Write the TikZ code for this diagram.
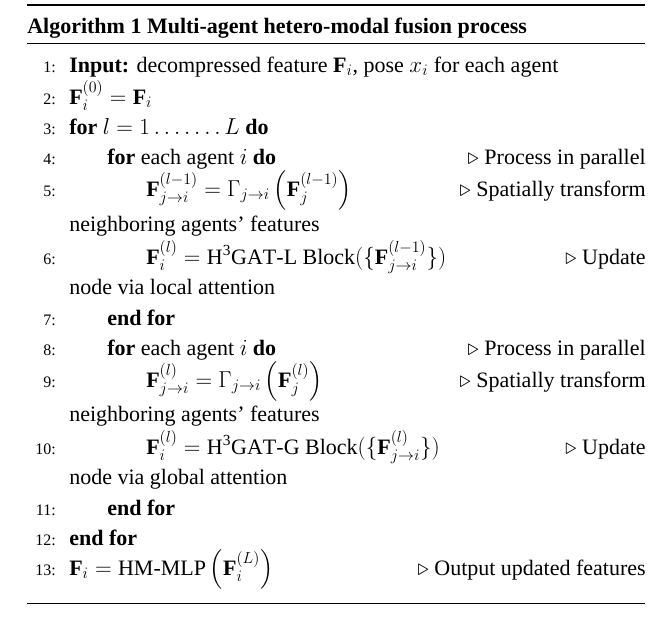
\documentclass[tikz,border=0pt]{standalone}
\usepackage{amsmath,amssymb}
\usepackage{fontspec}
\setmainfont{Liberation Serif}
\begin{document}
\begin{tikzpicture}[x=0.75pt,y=-0.75pt,
  txt/.style={anchor=base west,inner sep=0pt,font=\fontsize{16.5}{20}\selectfont},
  num/.style={anchor=base east,inner sep=0pt,font=\fontsize{12}{14}\selectfont},
  cmt/.style={anchor=base east,inner sep=0pt,font=\fontsize{16.5}{20}\selectfont},
  rl/.style={line width=0.9pt}]
\useasboundingbox (0,0) rectangle (659,625);
\draw[rl] (27,5) -- (645,5);
\draw[rl,line width=0.5pt] (27,43) -- (645,43);
\draw[rl,line width=0.5pt] (27,603) -- (645,603);
\node[txt] (t) at (27,33) {\textbf{Algorithm 1 Multi-agent hetero-modal fusion process}};
\newcommand{\algln}[4]{\node[num] (n#1) at (56,#2) {#1:}; \node[txt] (l#1) at (#3,#2) {#4};}
\algln{1}{72}{69}{\textbf{Input:} decompressed feature $\mathbf{F}_i$, pose $x_i$ for each agent}
\algln{2}{104}{69}{$\mathbf{F}_i^{(0)}=\mathbf{F}_i$}
\algln{3}{134}{69}{\textbf{for} $l=1\ldots.\ldots L$ \textbf{do}}
\algln{4}{164}{107}{\textbf{for} each agent $i$ \textbf{do}}
\node[cmt] (c4) at (646,164) {$\triangleright$ Process in parallel};
\algln{5}{196}{146}{$\mathbf{F}_{j\to i}^{(l-1)}=\Gamma_{j\to i}\left(\mathbf{F}_j^{(l-1)}\right)$}
\node[cmt] (c5) at (646,196) {$\triangleright$ Spatially transform};
\node[txt] (l5b) at (69,231) {neighboring agents' features};
\algln{6}{264}{146}{$\mathbf{F}_i^{(l)}=\mathrm{H^3GAT\text{-}L\ Block}(\{\mathbf{F}_{j\to i}^{(l-1)}\})$}
\node[cmt] (c6) at (646,264) {$\triangleright$ Update};
\node[txt] (l6b) at (69,294) {node via local attention};
\algln{7}{325}{107}{\textbf{end for}}
\algln{8}{355}{107}{\textbf{for} each agent $i$ \textbf{do}}
\node[cmt] (c8) at (646,355) {$\triangleright$ Process in parallel};
\algln{9}{387}{146}{$\mathbf{F}_{j\to i}^{(l)}=\Gamma_{j\to i}\left(\mathbf{F}_j^{(l)}\right)$}
\node[cmt] (c9) at (646,387) {$\triangleright$ Spatially transform};
\node[txt] (l9b) at (69,421) {neighboring agents' features};
\algln{10}{454}{146}{$\mathbf{F}_i^{(l)}=\mathrm{H^3GAT\text{-}G\ Block}(\{\mathbf{F}_{j\to i}^{(l)}\})$}
\node[cmt] (c10) at (646,454) {$\triangleright$ Update};
\node[txt] (l10b) at (69,484) {node via global attention};
\algln{11}{515}{107}{\textbf{end for}}
\algln{12}{545}{69}{\textbf{end for}}
\algln{13}{575}{69}{$\mathbf{F}_i=\mathrm{HM\text{-}MLP}\left(\mathbf{F}_i^{(L)}\right)$}
\node[cmt] (c13) at (646,575) {$\triangleright$ Output updated features};
\end{tikzpicture}
\end{document}
